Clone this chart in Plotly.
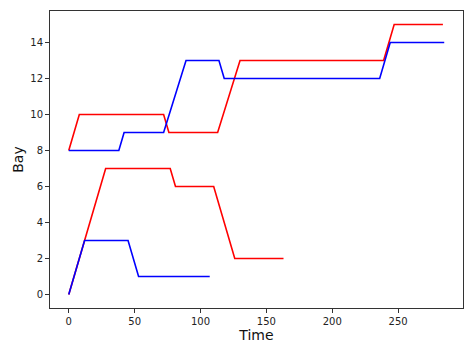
import plotly.graph_objects as go

# Series data (time, bay)
red_top_t = [0, 8, 72, 76, 113, 130, 239, 247, 284]
red_top_bay = [8, 10, 10, 9, 9, 13, 13, 15, 15]

red_bot_t = [0, 28, 77, 81, 110, 126, 163]
red_bot_bay = [0, 7, 7, 6, 6, 2, 2]

blue_top_t = [0, 38, 42, 72, 89, 114, 118, 236, 244, 285]
blue_top_bay = [8, 8, 9, 9, 13, 13, 12, 12, 14, 14]

blue_bot_t = [0, 12, 45, 53, 107]
blue_bot_bay = [0, 3, 3, 1, 1]

x_ticks = [0, 50, 100, 150, 200, 250]
y_ticks = [0, 2, 4, 6, 8, 10, 12, 14]

fig = go.Figure()
for t, b, c in [(red_top_t, red_top_bay, "red"), (red_bot_t, red_bot_bay, "red"),
                (blue_top_t, blue_top_bay, "blue"), (blue_bot_t, blue_bot_bay, "blue")]:
    fig.add_trace(go.Scatter(x=t, y=b, mode="lines", line=dict(color=c, width=1.6),
                             showlegend=False, hoverinfo="skip"))

axis_common = dict(showgrid=False, zeroline=False, showline=True, linecolor="#333",
                   linewidth=1, mirror=True, ticks="outside", ticklen=4, tickwidth=1,
                   tickcolor="#333", automargin=False,
                   tickfont=dict(family="DejaVu Sans", size=10, color="#222"))

fig.update_layout(
    width=474, height=355,
    margin=dict(l=50, r=11, t=11, b=47),
    paper_bgcolor="white", plot_bgcolor="white",
    xaxis=dict(range=[-14.25, 299.25], tickvals=x_ticks,
               title=dict(text="Time", font=dict(family="DejaVu Sans", size=14, color="#111"), standoff=4),
               **axis_common),
    yaxis=dict(range=[-0.75, 15.75], tickvals=y_ticks,
               title=dict(text="Bay", font=dict(family="DejaVu Sans", size=14, color="#111"), standoff=3),
               **axis_common),
)

fig.write_html("out.html", config={"displayModeBar": False},
               post_script="document.body.style.margin='0';")
